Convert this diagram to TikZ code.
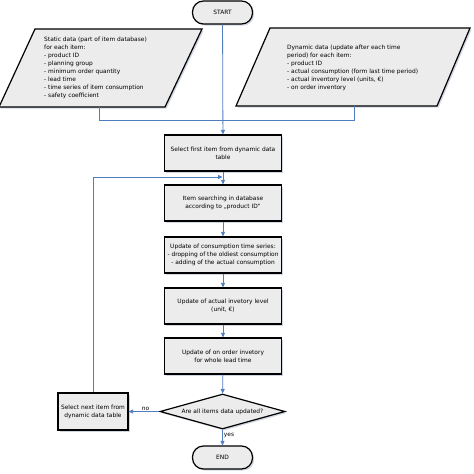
\documentclass[tikz,border=0pt]{standalone}
\usepackage{fontspec}
\setmainfont{DejaVu Sans}
\usetikzlibrary{shapes.geometric,arrows.meta,shadows}
\definecolor{conn}{RGB}{79,125,190}
\definecolor{boxfill}{RGB}{236,236,236}
\definecolor{shadowc}{RGB}{208,214,226}
\begin{document}
\begin{tikzpicture}[x=1pt,y=-1pt,
  font=\fontsize{5.9}{8}\selectfont,
  shad/.style={drop shadow={shadow xshift=1.6pt,shadow yshift=-1.6pt,fill=shadowc,opacity=1}},
  procbox/.style={draw=black,line width=1.2pt,fill=boxfill,shad,minimum width=117pt,minimum height=36pt,align=center,inner sep=1pt},
  terminal/.style={draw=black,line width=1.2pt,fill=boxfill,shad,rounded corners=11pt,minimum width=60pt,minimum height=23pt,inner sep=0pt},
  decision/.style={diamond,draw=black,line width=1.2pt,fill=boxfill,shad,minimum width=125pt,minimum height=35pt,inner sep=0pt,aspect=3.6},
  conline/.style={draw=conn,line width=0.8pt},
  arr/.style={conline,-{Triangle[length=4.5pt,width=4pt]}},
  lbl/.style={inner sep=1pt}
]
\useasboundingbox (0,0) rectangle (474,474);

% parallelograms
\path[draw=black,line width=1.2pt,fill=boxfill,shad] (35,29) -- (202,29) -- (165,107) -- (-1,107) -- cycle;
\path[draw=black,line width=1.2pt,fill=boxfill,shad] (270,28) -- (470,28) -- (437,106) -- (236,106) -- cycle;
\node[anchor=north west,inner sep=0pt,align=left] (stat) at (44,36.5) {Static data (part of item database)\\for each item:\\- product ID\\- planning group\\- minimum order quantity\\- lead time\\- time series of item consumption\\- safety coefficient};
\node[anchor=north west,inner sep=0pt,align=left] (dyn) at (287,44.5) {Dynamic data (update after each time\\period) for each item:\\- product ID\\- actual consumption (form last time period)\\- actual inventory level (units, €)\\- on order inventory};
\coordinate (sb) at (99,107);
\coordinate (db) at (354,106);
\coordinate (join) at (222.5,120);

\node[terminal] (start) at (222.5,12.5) {START};
\node[procbox] (b1) at (223,153) {Select first item from dynamic data\\table};
\node[procbox] (b2) at (223,203) {Item searching in database\\according to „product ID“};
\node[procbox] (b3) at (223,255) {Update of consumption time series:\\- dropping of the oldiest consumption\\- adding of the actual consumption};
\node[procbox] (b4) at (223,306) {Update of actual invetory level\\(unit, €)};
\node[procbox] (b5) at (223,356) {Update of on order invetory\\for whole lead time};
\node[decision] (dec) at (222.5,411.5) {Are all items data updated?};
\node[procbox,minimum width=70pt,minimum height=37pt] (nxt) at (93,411.5) {Select next item from\\dynamic data table};
\node[terminal] (end) at (222.5,457.5) {END};
\coordinate (loopend) at (222.5,177);

\draw[conline] (sb) |- (join);
\draw[conline] (db) |- (join);
\draw[arr] (start) -- (b1);
\draw[arr] (b1) -- (b2);
\draw[arr] (b2) -- (b3);
\draw[arr] (b3) -- (b4);
\draw[arr] (b4) -- (b5);
\draw[arr] (b5) -- (dec);
\draw[arr] (dec.west) -- node[lbl,above,pos=0.45] {no} (nxt.east);
\draw[arr] (dec.south) -- node[lbl,right,pos=0.4] {yes} (end.north);
\draw[arr] (nxt.north) |- (loopend);
\end{tikzpicture}
\end{document}
